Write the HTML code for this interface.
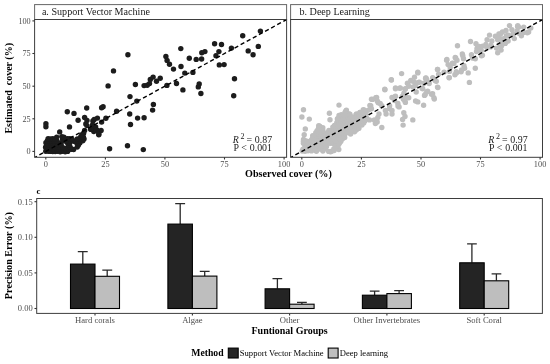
<!DOCTYPE html>
<html lang="en"><head><meta charset="utf-8"><title>Figure</title>
<style>html,body{margin:0;padding:0;background:#fff}svg{display:block}text{font-family:"Liberation Serif",serif}</style>
</head><body>
<svg width="550" height="364" viewBox="0 0 550 364">
<rect width="550" height="364" fill="#fff"/>
<defs>
<clipPath id="ca"><rect x="34.6" y="19.5" width="252" height="137.8"/></clipPath>
<clipPath id="cb"><rect x="290.6" y="19.5" width="251.9" height="137.8"/></clipPath>
</defs>
<g>
<g clip-path="url(#ca)" fill="#1c1c1c">
<circle cx="260.4" cy="31.1" r="2.7"/>
<circle cx="242.7" cy="35.8" r="2.7"/>
<circle cx="258.3" cy="46.4" r="2.7"/>
<circle cx="248.2" cy="50.9" r="2.7"/>
<circle cx="253.1" cy="54.7" r="2.7"/>
<circle cx="231.4" cy="48.1" r="2.7"/>
<circle cx="214.6" cy="43.8" r="2.7"/>
<circle cx="221.5" cy="44.5" r="2.7"/>
<circle cx="218.9" cy="51.6" r="2.7"/>
<circle cx="216" cy="55.7" r="2.7"/>
<circle cx="204.9" cy="51.6" r="2.7"/>
<circle cx="201.8" cy="52.8" r="2.7"/>
<circle cx="196.2" cy="59.4" r="2.7"/>
<circle cx="201.6" cy="59" r="2.7"/>
<circle cx="189.3" cy="58.3" r="2.7"/>
<circle cx="180.8" cy="48.6" r="2.7"/>
<circle cx="219.3" cy="64.9" r="2.7"/>
<circle cx="224.1" cy="64.6" r="2.7"/>
<circle cx="165.9" cy="56.4" r="2.7"/>
<circle cx="167.1" cy="60.4" r="2.7"/>
<circle cx="169.5" cy="64.2" r="2.7"/>
<circle cx="173.5" cy="69.1" r="2.7"/>
<circle cx="181" cy="66.5" r="2.7"/>
<circle cx="184.8" cy="73.1" r="2.7"/>
<circle cx="192.9" cy="72.4" r="2.7"/>
<circle cx="160.2" cy="78.3" r="2.7"/>
<circle cx="166.9" cy="85.4" r="2.7"/>
<circle cx="176.5" cy="83.5" r="2.7"/>
<circle cx="182.9" cy="89.9" r="2.7"/>
<circle cx="199.2" cy="84" r="2.7"/>
<circle cx="198.3" cy="86.9" r="2.7"/>
<circle cx="200.9" cy="93.5" r="2.7"/>
<circle cx="234.5" cy="78.8" r="2.7"/>
<circle cx="233.7" cy="95.8" r="2.7"/>
<circle cx="127.9" cy="54.7" r="2.7"/>
<circle cx="113.5" cy="70.9" r="2.7"/>
<circle cx="108.1" cy="85.9" r="2.7"/>
<circle cx="135.4" cy="84.5" r="2.7"/>
<circle cx="144.1" cy="85.6" r="2.7"/>
<circle cx="147.2" cy="85.3" r="2.7"/>
<circle cx="149.5" cy="83.6" r="2.7"/>
<circle cx="150.3" cy="79.4" r="2.7"/>
<circle cx="153.1" cy="77.1" r="2.7"/>
<circle cx="156.5" cy="81.3" r="2.7"/>
<circle cx="130" cy="96.6" r="2.7"/>
<circle cx="136.8" cy="101.1" r="2.7"/>
<circle cx="153.4" cy="104.4" r="2.7"/>
<circle cx="152.6" cy="110.1" r="2.7"/>
<circle cx="116.6" cy="111.2" r="2.7"/>
<circle cx="129.7" cy="114" r="2.7"/>
<circle cx="137.6" cy="118.1" r="2.7"/>
<circle cx="144.1" cy="117.8" r="2.7"/>
<circle cx="130.5" cy="124.5" r="2.7"/>
<circle cx="103.1" cy="106.7" r="2.7"/>
<circle cx="101.6" cy="107.8" r="2.7"/>
<circle cx="105.9" cy="118.3" r="2.7"/>
<circle cx="101.6" cy="122.1" r="2.7"/>
<circle cx="97.4" cy="118.1" r="2.7"/>
<circle cx="94.2" cy="119.4" r="2.7"/>
<circle cx="91.5" cy="129.4" r="2.7"/>
<circle cx="97" cy="130.2" r="2.7"/>
<circle cx="101.1" cy="130.5" r="2.7"/>
<circle cx="98.8" cy="134.8" r="2.7"/>
<circle cx="127.5" cy="145.8" r="2.7"/>
<circle cx="109.6" cy="148.7" r="2.7"/>
<circle cx="143.3" cy="149.6" r="2.7"/>
<circle cx="86.7" cy="108" r="2.7"/>
<circle cx="67.3" cy="111.8" r="2.7"/>
<circle cx="74" cy="113.4" r="2.7"/>
<circle cx="78.1" cy="120.2" r="2.7"/>
<circle cx="84.6" cy="117.5" r="2.7"/>
<circle cx="87" cy="120.5" r="2.7"/>
<circle cx="45.9" cy="123.7" r="2.7"/>
<circle cx="45.9" cy="126.8" r="2.7"/>
<circle cx="69.5" cy="126.9" r="2.7"/>
<circle cx="85.8" cy="124" r="2.7"/>
<circle cx="87" cy="125.6" r="2.7"/>
<circle cx="84.6" cy="130.4" r="2.7"/>
<circle cx="59.7" cy="131.9" r="2.7"/>
<circle cx="83.5" cy="138.6" r="2.7"/>
<circle cx="83.6" cy="133.2" r="2.7"/>
<circle cx="92.5" cy="125" r="2.7"/>
<circle cx="95.6" cy="127" r="2.7"/>
<circle cx="93.8" cy="131.5" r="2.7"/>
<circle cx="90.6" cy="129.2" r="2.7"/>
<circle cx="92.9" cy="120.9" r="2.7"/>
<circle cx="96.5" cy="130.4" r="2.7"/>
<circle cx="98.8" cy="133.9" r="2.7"/>
<circle cx="45.8" cy="151.3" r="2.7"/>
<circle cx="48.4" cy="151.2" r="2.7"/>
<circle cx="50.7" cy="151.4" r="2.7"/>
<circle cx="52.8" cy="151.5" r="2.7"/>
<circle cx="55.2" cy="151.5" r="2.7"/>
<circle cx="57.6" cy="151.2" r="2.7"/>
<circle cx="60.2" cy="151.7" r="2.7"/>
<circle cx="62.4" cy="151.3" r="2.7"/>
<circle cx="65.2" cy="151.8" r="2.7"/>
<circle cx="67.6" cy="151.4" r="2.7"/>
<circle cx="47.1" cy="149.3" r="2.7"/>
<circle cx="49.7" cy="149.5" r="2.7"/>
<circle cx="51.7" cy="149.5" r="2.7"/>
<circle cx="54.3" cy="149.7" r="2.7"/>
<circle cx="56.9" cy="149.3" r="2.7"/>
<circle cx="59.4" cy="149.1" r="2.7"/>
<circle cx="61.4" cy="149.6" r="2.7"/>
<circle cx="63.7" cy="149.4" r="2.7"/>
<circle cx="66" cy="149.5" r="2.7"/>
<circle cx="68.9" cy="149.5" r="2.7"/>
<circle cx="71.4" cy="149.3" r="2.7"/>
<circle cx="73.6" cy="149.5" r="2.7"/>
<circle cx="45.6" cy="147.3" r="2.7"/>
<circle cx="48.1" cy="147" r="2.7"/>
<circle cx="50.4" cy="147.5" r="2.7"/>
<circle cx="52.8" cy="147.1" r="2.7"/>
<circle cx="55.4" cy="147.6" r="2.7"/>
<circle cx="57.6" cy="147.3" r="2.7"/>
<circle cx="60.3" cy="147.6" r="2.7"/>
<circle cx="62.9" cy="147.6" r="2.7"/>
<circle cx="67.4" cy="147.6" r="2.7"/>
<circle cx="70.2" cy="147.1" r="2.7"/>
<circle cx="77.2" cy="147.1" r="2.7"/>
<circle cx="47.4" cy="145.4" r="2.7"/>
<circle cx="49.4" cy="145.1" r="2.7"/>
<circle cx="51.6" cy="145.3" r="2.7"/>
<circle cx="54" cy="144.9" r="2.7"/>
<circle cx="56.5" cy="145" r="2.7"/>
<circle cx="59" cy="144.9" r="2.7"/>
<circle cx="61.2" cy="145" r="2.7"/>
<circle cx="68.8" cy="145" r="2.7"/>
<circle cx="78.3" cy="145.2" r="2.7"/>
<circle cx="45.9" cy="142.8" r="2.7"/>
<circle cx="48.3" cy="143.4" r="2.7"/>
<circle cx="51" cy="143.2" r="2.7"/>
<circle cx="52.9" cy="143" r="2.7"/>
<circle cx="55.3" cy="143.3" r="2.7"/>
<circle cx="57.9" cy="143.3" r="2.7"/>
<circle cx="60.2" cy="142.9" r="2.7"/>
<circle cx="67.7" cy="143.3" r="2.7"/>
<circle cx="69.7" cy="143.1" r="2.7"/>
<circle cx="76.9" cy="143.2" r="2.7"/>
<circle cx="79.8" cy="143.1" r="2.7"/>
<circle cx="47.3" cy="141" r="2.7"/>
<circle cx="49.6" cy="141.2" r="2.7"/>
<circle cx="51.6" cy="141.1" r="2.7"/>
<circle cx="54.6" cy="141.2" r="2.7"/>
<circle cx="56.9" cy="141" r="2.7"/>
<circle cx="64.2" cy="140.9" r="2.7"/>
<circle cx="66.2" cy="141.3" r="2.7"/>
<circle cx="68.9" cy="140.8" r="2.7"/>
<circle cx="70.8" cy="140.8" r="2.7"/>
<circle cx="73.8" cy="141.2" r="2.7"/>
<circle cx="75.7" cy="141.2" r="2.7"/>
<circle cx="78.6" cy="141.1" r="2.7"/>
<circle cx="80.6" cy="141" r="2.7"/>
<circle cx="82.8" cy="140.7" r="2.7"/>
<circle cx="48.1" cy="138.8" r="2.7"/>
<circle cx="50.5" cy="139" r="2.7"/>
<circle cx="52.9" cy="138.8" r="2.7"/>
<circle cx="55.2" cy="139.2" r="2.7"/>
<circle cx="62.6" cy="139.2" r="2.7"/>
<circle cx="65.1" cy="138.9" r="2.7"/>
<circle cx="67.5" cy="138.6" r="2.7"/>
<circle cx="69.9" cy="138.7" r="2.7"/>
<circle cx="72" cy="139.1" r="2.7"/>
<circle cx="77.3" cy="138.9" r="2.7"/>
<circle cx="79.4" cy="138.9" r="2.7"/>
<circle cx="81.9" cy="139.1" r="2.7"/>
<circle cx="84" cy="138.9" r="2.7"/>
<circle cx="56.7" cy="137.1" r="2.7"/>
<circle cx="61.8" cy="136.6" r="2.7"/>
<circle cx="63.9" cy="137.1" r="2.7"/>
<circle cx="80.8" cy="136.6" r="2.7"/>
<circle cx="83.4" cy="137.1" r="2.7"/>
<circle cx="81.9" cy="134.8" r="2.7"/>
</g>
<line clip-path="url(#ca)" x1="35" y1="157.3" x2="288.9" y2="18.3" stroke="#000" stroke-width="1.4" stroke-dasharray="4.2 2.754" stroke-dashoffset="2"/>
<rect x="34.6" y="4.6" width="252" height="14.9" fill="#fff" stroke="#666" stroke-width="1"/>
<text x="41.9" y="15.1" font-size="10.1" fill="#1a1a1a">a. Support Vector Machine</text>
<rect x="34.6" y="19.5" width="252" height="137.8" fill="none" stroke="#3d3d3d" stroke-width="1"/>
<line x1="45.8" y1="157.3" x2="45.8" y2="159.5" stroke="#333" stroke-width="1.1"/>
<text x="45.8" y="167" font-size="8.3" text-anchor="middle" fill="#4d4d4d">0</text>
<line x1="105.4" y1="157.3" x2="105.4" y2="159.5" stroke="#333" stroke-width="1.1"/>
<text x="105.4" y="167" font-size="8.3" text-anchor="middle" fill="#4d4d4d">25</text>
<line x1="164.9" y1="157.3" x2="164.9" y2="159.5" stroke="#333" stroke-width="1.1"/>
<text x="164.9" y="167" font-size="8.3" text-anchor="middle" fill="#4d4d4d">50</text>
<line x1="224.5" y1="157.3" x2="224.5" y2="159.5" stroke="#333" stroke-width="1.1"/>
<text x="224.5" y="167" font-size="8.3" text-anchor="middle" fill="#4d4d4d">75</text>
<line x1="284.1" y1="157.3" x2="284.1" y2="159.5" stroke="#333" stroke-width="1.1"/>
<text x="284.1" y="167" font-size="8.3" text-anchor="middle" fill="#4d4d4d">100</text>
</g>
<g>
<g clip-path="url(#cb)" fill="#bebebe">
<circle cx="303.5" cy="109.8" r="2.7"/>
<circle cx="301.9" cy="117" r="2.7"/>
<circle cx="309.3" cy="119.1" r="2.7"/>
<circle cx="305.3" cy="128.9" r="2.7"/>
<circle cx="304.2" cy="134.8" r="2.7"/>
<circle cx="303.5" cy="139.5" r="2.7"/>
<circle cx="339" cy="105.1" r="2.7"/>
<circle cx="329.4" cy="113.2" r="2.7"/>
<circle cx="330" cy="119.7" r="2.7"/>
<circle cx="346.4" cy="110.1" r="2.7"/>
<circle cx="349.1" cy="114" r="2.7"/>
<circle cx="339" cy="115.5" r="2.7"/>
<circle cx="337.5" cy="118.6" r="2.7"/>
<circle cx="339.8" cy="122.5" r="2.7"/>
<circle cx="343.6" cy="120.9" r="2.7"/>
<circle cx="349.8" cy="120.1" r="2.7"/>
<circle cx="319.7" cy="126.3" r="2.7"/>
<circle cx="322.8" cy="127.8" r="2.7"/>
<circle cx="332.8" cy="127.1" r="2.7"/>
<circle cx="356" cy="114.7" r="2.7"/>
<circle cx="359.9" cy="112.4" r="2.7"/>
<circle cx="363.3" cy="109.8" r="2.7"/>
<circle cx="371.5" cy="99.3" r="2.7"/>
<circle cx="369.9" cy="105.5" r="2.7"/>
<circle cx="368.4" cy="110.1" r="2.7"/>
<circle cx="366.8" cy="118.6" r="2.7"/>
<circle cx="358.3" cy="128.6" r="2.7"/>
<circle cx="354.5" cy="131.7" r="2.7"/>
<circle cx="312.7" cy="135.6" r="2.7"/>
<circle cx="303.4" cy="141.2" r="2.7"/>
<circle cx="318.7" cy="125.8" r="2.7"/>
<circle cx="345.9" cy="110.9" r="2.7"/>
<circle cx="344.7" cy="118.7" r="2.7"/>
<circle cx="356.5" cy="114" r="2.7"/>
<circle cx="356.1" cy="117.1" r="2.7"/>
<circle cx="376.6" cy="97.5" r="2.7"/>
<circle cx="377.3" cy="101" r="2.7"/>
<circle cx="370.7" cy="105.7" r="2.7"/>
<circle cx="380.2" cy="103.4" r="2.7"/>
<circle cx="381.8" cy="105.7" r="2.7"/>
<circle cx="384.9" cy="89.7" r="2.7"/>
<circle cx="391.3" cy="79.7" r="2.7"/>
<circle cx="395.5" cy="88" r="2.7"/>
<circle cx="400.3" cy="88" r="2.7"/>
<circle cx="405" cy="89.2" r="2.7"/>
<circle cx="392" cy="97.5" r="2.7"/>
<circle cx="395.5" cy="96.3" r="2.7"/>
<circle cx="407.4" cy="83.3" r="2.7"/>
<circle cx="410.9" cy="80.9" r="2.7"/>
<circle cx="414.4" cy="82.1" r="2.7"/>
<circle cx="415.6" cy="85.6" r="2.7"/>
<circle cx="406.2" cy="97.5" r="2.7"/>
<circle cx="405" cy="101" r="2.7"/>
<circle cx="397.9" cy="103.4" r="2.7"/>
<circle cx="399.1" cy="106.9" r="2.7"/>
<circle cx="389.6" cy="105.7" r="2.7"/>
<circle cx="392" cy="110.5" r="2.7"/>
<circle cx="386.1" cy="114" r="2.7"/>
<circle cx="392" cy="114" r="2.7"/>
<circle cx="403.8" cy="112.8" r="2.7"/>
<circle cx="405" cy="116.4" r="2.7"/>
<circle cx="402.6" cy="119.4" r="2.7"/>
<circle cx="403.1" cy="125.1" r="2.7"/>
<circle cx="412.8" cy="119.9" r="2.7"/>
<circle cx="415.6" cy="101" r="2.7"/>
<circle cx="381.8" cy="127.5" r="2.7"/>
<circle cx="375.4" cy="123.5" r="2.7"/>
<circle cx="374.3" cy="119.9" r="2.7"/>
<circle cx="377.8" cy="117.5" r="2.7"/>
<circle cx="379" cy="114" r="2.7"/>
<circle cx="369.5" cy="119.9" r="2.7"/>
<circle cx="364.8" cy="121.1" r="2.7"/>
<circle cx="358.9" cy="128.2" r="2.7"/>
<circle cx="350.6" cy="134.1" r="2.7"/>
<circle cx="344.7" cy="137.6" r="2.7"/>
<circle cx="338.8" cy="143.5" r="2.7"/>
<circle cx="338.8" cy="149.5" r="2.7"/>
<circle cx="334.1" cy="150.6" r="2.7"/>
<circle cx="330.5" cy="151.8" r="2.7"/>
<circle cx="509.5" cy="25.6" r="2.7"/>
<circle cx="517.8" cy="25.6" r="2.7"/>
<circle cx="523.7" cy="27.3" r="2.7"/>
<circle cx="530.8" cy="28" r="2.7"/>
<circle cx="527.3" cy="32.7" r="2.7"/>
<circle cx="521.4" cy="35.8" r="2.7"/>
<circle cx="514.3" cy="38.6" r="2.7"/>
<circle cx="511.9" cy="29.7" r="2.7"/>
<circle cx="506" cy="30.4" r="2.7"/>
<circle cx="502.4" cy="32" r="2.7"/>
<circle cx="498.9" cy="33.9" r="2.7"/>
<circle cx="495.4" cy="36.3" r="2.7"/>
<circle cx="489.5" cy="35.1" r="2.7"/>
<circle cx="487.1" cy="39.8" r="2.7"/>
<circle cx="485.9" cy="44.5" r="2.7"/>
<circle cx="491.8" cy="41" r="2.7"/>
<circle cx="497.7" cy="39.8" r="2.7"/>
<circle cx="503.6" cy="38.6" r="2.7"/>
<circle cx="508.4" cy="35.1" r="2.7"/>
<circle cx="513.1" cy="33.9" r="2.7"/>
<circle cx="504.8" cy="43.4" r="2.7"/>
<circle cx="500.1" cy="45.7" r="2.7"/>
<circle cx="496.5" cy="48.1" r="2.7"/>
<circle cx="497.7" cy="52.8" r="2.7"/>
<circle cx="490.6" cy="46.9" r="2.7"/>
<circle cx="470.5" cy="41.5" r="2.7"/>
<circle cx="476" cy="43.8" r="2.7"/>
<circle cx="477.6" cy="46.9" r="2.7"/>
<circle cx="476.5" cy="51.6" r="2.7"/>
<circle cx="481.2" cy="50.5" r="2.7"/>
<circle cx="482.4" cy="55.2" r="2.7"/>
<circle cx="475.3" cy="58.7" r="2.7"/>
<circle cx="457.5" cy="45.7" r="2.7"/>
<circle cx="462.3" cy="54" r="2.7"/>
<circle cx="463.5" cy="58.7" r="2.7"/>
<circle cx="455.2" cy="57.5" r="2.7"/>
<circle cx="446.9" cy="59.4" r="2.7"/>
<circle cx="452.8" cy="63.5" r="2.7"/>
<circle cx="448.1" cy="64.6" r="2.7"/>
<circle cx="475.3" cy="68.2" r="2.7"/>
<circle cx="464.6" cy="68.2" r="2.7"/>
<circle cx="461.1" cy="71.7" r="2.7"/>
<circle cx="456.4" cy="72.9" r="2.7"/>
<circle cx="468.2" cy="72.9" r="2.7"/>
<circle cx="449.3" cy="77.6" r="2.7"/>
<circle cx="469.4" cy="82.4" r="2.7"/>
<circle cx="437.5" cy="69.4" r="2.7"/>
<circle cx="438.6" cy="74.1" r="2.7"/>
<circle cx="432.7" cy="77.6" r="2.7"/>
<circle cx="425.6" cy="78.3" r="2.7"/>
<circle cx="417.8" cy="72.9" r="2.7"/>
<circle cx="418.5" cy="82.4" r="2.7"/>
<circle cx="429.2" cy="83.5" r="2.7"/>
<circle cx="436.3" cy="81.2" r="2.7"/>
<circle cx="437.5" cy="87.1" r="2.7"/>
<circle cx="422.1" cy="88.3" r="2.7"/>
<circle cx="426.8" cy="91.8" r="2.7"/>
<circle cx="431.5" cy="94.2" r="2.7"/>
<circle cx="433.9" cy="97.7" r="2.7"/>
<circle cx="424.5" cy="95.4" r="2.7"/>
<circle cx="401.6" cy="73.6" r="2.7"/>
<circle cx="391.4" cy="80" r="2.7"/>
<circle cx="384.8" cy="89.2" r="2.7"/>
<circle cx="417.8" cy="72.3" r="2.7"/>
<circle cx="414.5" cy="77.2" r="2.7"/>
<circle cx="410.9" cy="80.5" r="2.7"/>
<circle cx="395.5" cy="88.7" r="2.7"/>
<circle cx="399.7" cy="88.2" r="2.7"/>
<circle cx="405.4" cy="88.7" r="2.7"/>
<circle cx="408.7" cy="86.3" r="2.7"/>
<circle cx="419.4" cy="82.1" r="2.7"/>
<circle cx="426" cy="78" r="2.7"/>
<circle cx="437.6" cy="69.4" r="2.7"/>
<circle cx="435.1" cy="80.5" r="2.7"/>
<circle cx="437.9" cy="87.6" r="2.7"/>
<circle cx="446.6" cy="60.2" r="2.7"/>
<circle cx="455.7" cy="57.9" r="2.7"/>
<circle cx="452.4" cy="63.2" r="2.7"/>
<circle cx="449.1" cy="77.7" r="2.7"/>
<circle cx="454.9" cy="74.7" r="2.7"/>
<circle cx="422.7" cy="88.7" r="2.7"/>
<circle cx="427.7" cy="91.2" r="2.7"/>
<circle cx="425.2" cy="94.5" r="2.7"/>
<circle cx="432.6" cy="93.7" r="2.7"/>
<circle cx="434.3" cy="99.1" r="2.7"/>
<circle cx="416.2" cy="92" r="2.7"/>
<circle cx="417.8" cy="101.9" r="2.7"/>
<circle cx="423.6" cy="105.2" r="2.7"/>
<circle cx="408.7" cy="97.8" r="2.7"/>
<circle cx="405.4" cy="102.4" r="2.7"/>
<circle cx="394.7" cy="97" r="2.7"/>
<circle cx="375.8" cy="97.8" r="2.7"/>
<circle cx="372.5" cy="99.4" r="2.7"/>
<circle cx="378.2" cy="102.7" r="2.7"/>
<circle cx="398" cy="106" r="2.7"/>
<circle cx="464" cy="65.8" r="2.7"/>
<circle cx="461.6" cy="69.9" r="2.7"/>
<circle cx="456.3" cy="71.7" r="2.7"/>
<circle cx="479.9" cy="50.4" r="2.7"/>
<circle cx="477" cy="48.6" r="2.7"/>
<circle cx="462.8" cy="55.7" r="2.7"/>
<circle cx="453.9" cy="63.4" r="2.7"/>
<circle cx="519.4" cy="33.4" r="2.7"/>
<circle cx="500.5" cy="34" r="2.7"/>
<circle cx="517" cy="31" r="2.7"/>
<circle cx="508.1" cy="41" r="2.7"/>
<circle cx="505.2" cy="43.4" r="2.7"/>
<circle cx="501.6" cy="45.8" r="2.7"/>
<circle cx="491" cy="45.2" r="2.7"/>
<circle cx="486.9" cy="47.6" r="2.7"/>
<circle cx="479.2" cy="46.4" r="2.7"/>
<circle cx="480.4" cy="49.3" r="2.7"/>
<circle cx="481.5" cy="55.8" r="2.7"/>
<circle cx="394.5" cy="100.5" r="2.7"/>
<circle cx="389.5" cy="108.7" r="2.7"/>
<circle cx="371.4" cy="108.7" r="2.7"/>
<circle cx="377.2" cy="121.9" r="2.7"/>
<circle cx="385.4" cy="110.4" r="2.7"/>
<circle cx="302.2" cy="151" r="2.7"/>
<circle cx="305" cy="151.3" r="2.7"/>
<circle cx="308" cy="150.8" r="2.7"/>
<circle cx="311.5" cy="150.9" r="2.7"/>
<circle cx="316.4" cy="151.3" r="2.7"/>
<circle cx="322.9" cy="151" r="2.7"/>
<circle cx="328.7" cy="151.4" r="2.7"/>
<circle cx="331.6" cy="151.3" r="2.7"/>
<circle cx="303" cy="149.1" r="2.7"/>
<circle cx="306.2" cy="149.2" r="2.7"/>
<circle cx="309.2" cy="148.4" r="2.7"/>
<circle cx="312.5" cy="148.3" r="2.7"/>
<circle cx="315.3" cy="149.2" r="2.7"/>
<circle cx="319" cy="149.1" r="2.7"/>
<circle cx="321.7" cy="149.2" r="2.7"/>
<circle cx="325" cy="148.8" r="2.7"/>
<circle cx="333.8" cy="148.9" r="2.7"/>
<circle cx="336.2" cy="148.2" r="2.7"/>
<circle cx="304.9" cy="145.9" r="2.7"/>
<circle cx="307.5" cy="145.8" r="2.7"/>
<circle cx="311.6" cy="145.7" r="2.7"/>
<circle cx="314" cy="146.3" r="2.7"/>
<circle cx="317.4" cy="145.8" r="2.7"/>
<circle cx="319.7" cy="145.8" r="2.7"/>
<circle cx="322.9" cy="146" r="2.7"/>
<circle cx="326.5" cy="146.5" r="2.7"/>
<circle cx="335.5" cy="146.1" r="2.7"/>
<circle cx="338.1" cy="145.5" r="2.7"/>
<circle cx="303.4" cy="143.2" r="2.7"/>
<circle cx="306.6" cy="142.9" r="2.7"/>
<circle cx="309.3" cy="143.5" r="2.7"/>
<circle cx="313.1" cy="143.7" r="2.7"/>
<circle cx="316" cy="143.5" r="2.7"/>
<circle cx="318.2" cy="143.2" r="2.7"/>
<circle cx="322.1" cy="143.7" r="2.7"/>
<circle cx="324.3" cy="142.9" r="2.7"/>
<circle cx="327.5" cy="143.7" r="2.7"/>
<circle cx="330.4" cy="143.2" r="2.7"/>
<circle cx="333.7" cy="144" r="2.7"/>
<circle cx="336.2" cy="142.9" r="2.7"/>
<circle cx="339.3" cy="143.4" r="2.7"/>
<circle cx="305.5" cy="140.7" r="2.7"/>
<circle cx="307.6" cy="141.4" r="2.7"/>
<circle cx="311.3" cy="140.3" r="2.7"/>
<circle cx="314.2" cy="140.8" r="2.7"/>
<circle cx="316.8" cy="140.7" r="2.7"/>
<circle cx="319.6" cy="140.3" r="2.7"/>
<circle cx="322.7" cy="140.7" r="2.7"/>
<circle cx="326.5" cy="140.4" r="2.7"/>
<circle cx="329.6" cy="140.5" r="2.7"/>
<circle cx="331.8" cy="141.3" r="2.7"/>
<circle cx="335.4" cy="140.8" r="2.7"/>
<circle cx="337.5" cy="140.9" r="2.7"/>
<circle cx="340.8" cy="141.4" r="2.7"/>
<circle cx="312.4" cy="138.3" r="2.7"/>
<circle cx="316" cy="137.9" r="2.7"/>
<circle cx="318.9" cy="138.6" r="2.7"/>
<circle cx="321.9" cy="138.6" r="2.7"/>
<circle cx="324.6" cy="138.1" r="2.7"/>
<circle cx="327.3" cy="138.1" r="2.7"/>
<circle cx="330.8" cy="137.8" r="2.7"/>
<circle cx="333.1" cy="138.6" r="2.7"/>
<circle cx="336.2" cy="137.8" r="2.7"/>
<circle cx="338.9" cy="138.4" r="2.7"/>
<circle cx="342.3" cy="138.9" r="2.7"/>
<circle cx="314" cy="136.1" r="2.7"/>
<circle cx="317.4" cy="136.2" r="2.7"/>
<circle cx="319.4" cy="135.5" r="2.7"/>
<circle cx="322.5" cy="135.3" r="2.7"/>
<circle cx="326.6" cy="135.8" r="2.7"/>
<circle cx="329.5" cy="135.5" r="2.7"/>
<circle cx="332.4" cy="135.6" r="2.7"/>
<circle cx="334.7" cy="136" r="2.7"/>
<circle cx="338.5" cy="135.2" r="2.7"/>
<circle cx="341.1" cy="135.8" r="2.7"/>
<circle cx="343.7" cy="135.5" r="2.7"/>
<circle cx="315.8" cy="132.7" r="2.7"/>
<circle cx="317.9" cy="133.6" r="2.7"/>
<circle cx="321.4" cy="133.5" r="2.7"/>
<circle cx="324.4" cy="133.6" r="2.7"/>
<circle cx="327.5" cy="132.7" r="2.7"/>
<circle cx="329.9" cy="133.2" r="2.7"/>
<circle cx="333.7" cy="133.6" r="2.7"/>
<circle cx="336" cy="133.2" r="2.7"/>
<circle cx="339.3" cy="133.1" r="2.7"/>
<circle cx="342.1" cy="132.8" r="2.7"/>
<circle cx="345.5" cy="133.6" r="2.7"/>
<circle cx="317.1" cy="130.6" r="2.7"/>
<circle cx="320.2" cy="130.3" r="2.7"/>
<circle cx="322.9" cy="130.6" r="2.7"/>
<circle cx="328.9" cy="130.4" r="2.7"/>
<circle cx="331.4" cy="130.6" r="2.7"/>
<circle cx="335" cy="130.2" r="2.7"/>
<circle cx="338.3" cy="130.8" r="2.7"/>
<circle cx="340.9" cy="130.1" r="2.7"/>
<circle cx="344" cy="130" r="2.7"/>
<circle cx="346.6" cy="130.4" r="2.7"/>
<circle cx="349.5" cy="130.4" r="2.7"/>
<circle cx="353" cy="129.9" r="2.7"/>
<circle cx="356.2" cy="130" r="2.7"/>
<circle cx="318.5" cy="128.4" r="2.7"/>
<circle cx="333.7" cy="128.4" r="2.7"/>
<circle cx="336.1" cy="128.2" r="2.7"/>
<circle cx="339" cy="127.9" r="2.7"/>
<circle cx="342.7" cy="127.7" r="2.7"/>
<circle cx="345.9" cy="128" r="2.7"/>
<circle cx="348.6" cy="128.4" r="2.7"/>
<circle cx="351" cy="128.5" r="2.7"/>
<circle cx="354.7" cy="127.8" r="2.7"/>
<circle cx="357.9" cy="127.6" r="2.7"/>
<circle cx="334.5" cy="125.5" r="2.7"/>
<circle cx="338.4" cy="125.6" r="2.7"/>
<circle cx="340.9" cy="125" r="2.7"/>
<circle cx="343.4" cy="125.5" r="2.7"/>
<circle cx="347.1" cy="125.1" r="2.7"/>
<circle cx="350.2" cy="125.2" r="2.7"/>
<circle cx="353.5" cy="125.6" r="2.7"/>
<circle cx="355.7" cy="125.8" r="2.7"/>
<circle cx="358.5" cy="125.3" r="2.7"/>
<circle cx="361.9" cy="125" r="2.7"/>
<circle cx="336.8" cy="122.7" r="2.7"/>
<circle cx="339.2" cy="122.9" r="2.7"/>
<circle cx="343.1" cy="122.4" r="2.7"/>
<circle cx="346" cy="122.1" r="2.7"/>
<circle cx="348.2" cy="122.4" r="2.7"/>
<circle cx="351.8" cy="123.2" r="2.7"/>
<circle cx="354.8" cy="122.5" r="2.7"/>
<circle cx="358" cy="122.5" r="2.7"/>
<circle cx="360.2" cy="123.2" r="2.7"/>
<circle cx="363.7" cy="122.9" r="2.7"/>
<circle cx="337.5" cy="119.5" r="2.7"/>
<circle cx="341.4" cy="120.5" r="2.7"/>
<circle cx="344.2" cy="120.5" r="2.7"/>
<circle cx="347.2" cy="119.8" r="2.7"/>
<circle cx="349.5" cy="119.6" r="2.7"/>
<circle cx="353.3" cy="119.7" r="2.7"/>
<circle cx="355.8" cy="120" r="2.7"/>
<circle cx="358.4" cy="119.8" r="2.7"/>
<circle cx="361.7" cy="120.4" r="2.7"/>
<circle cx="364.8" cy="119.9" r="2.7"/>
<circle cx="339" cy="117.8" r="2.7"/>
<circle cx="342.7" cy="117.8" r="2.7"/>
<circle cx="345.7" cy="117.3" r="2.7"/>
<circle cx="348.4" cy="117.4" r="2.7"/>
<circle cx="352" cy="117" r="2.7"/>
<circle cx="357.1" cy="117.2" r="2.7"/>
<circle cx="361" cy="117.5" r="2.7"/>
<circle cx="363.4" cy="118" r="2.7"/>
<circle cx="366.2" cy="117.5" r="2.7"/>
<circle cx="341.3" cy="114.8" r="2.7"/>
<circle cx="343.6" cy="115.1" r="2.7"/>
<circle cx="346.5" cy="114.5" r="2.7"/>
<circle cx="349.9" cy="114.3" r="2.7"/>
<circle cx="359.2" cy="114.9" r="2.7"/>
<circle cx="361.6" cy="115" r="2.7"/>
<circle cx="364.9" cy="115.2" r="2.7"/>
<circle cx="345" cy="112.4" r="2.7"/>
<circle cx="360.2" cy="112.5" r="2.7"/>
<circle cx="363.4" cy="112.6" r="2.7"/>
<circle cx="366" cy="112.9" r="2.7"/>
<circle cx="364.5" cy="110.1" r="2.7"/>
<circle cx="501.1" cy="50.1" r="2.7"/>
<circle cx="499.5" cy="38.2" r="2.7"/>
<circle cx="506.4" cy="35.8" r="2.7"/>
<circle cx="402.2" cy="96.5" r="2.7"/>
<circle cx="423.9" cy="83.2" r="2.7"/>
<circle cx="403.9" cy="93.3" r="2.7"/>
<circle cx="471.5" cy="54.8" r="2.7"/>
<circle cx="523.5" cy="32.5" r="2.7"/>
<circle cx="518.5" cy="27.2" r="2.7"/>
<circle cx="450.2" cy="67.4" r="2.7"/>
<circle cx="413.1" cy="86.9" r="2.7"/>
<circle cx="472.4" cy="58.1" r="2.7"/>
<circle cx="482.6" cy="46.1" r="2.7"/>
<circle cx="449.6" cy="71.4" r="2.7"/>
<circle cx="457" cy="60.3" r="2.7"/>
<circle cx="529.5" cy="17.5" r="2.7"/>
<circle cx="426.7" cy="79.4" r="2.7"/>
<circle cx="444.1" cy="72.1" r="2.7"/>
<circle cx="517.6" cy="26.4" r="2.7"/>
<circle cx="403.4" cy="99.3" r="2.7"/>
<circle cx="502.1" cy="42.5" r="2.7"/>
<circle cx="528.6" cy="32" r="2.7"/>
</g>
<line clip-path="url(#cb)" x1="291" y1="157.3" x2="544.9" y2="18.3" stroke="#000" stroke-width="1.4" stroke-dasharray="4.2 2.754" stroke-dashoffset="2"/>
<rect x="290.6" y="4.6" width="251.9" height="14.9" fill="#fff" stroke="#666" stroke-width="1"/>
<text x="299.5" y="15.1" font-size="10.1" fill="#1a1a1a">b. Deep Learning</text>
<rect x="290.6" y="19.5" width="251.9" height="137.8" fill="none" stroke="#3d3d3d" stroke-width="1"/>
<line x1="301.8" y1="157.3" x2="301.8" y2="159.5" stroke="#333" stroke-width="1.1"/>
<text x="301.8" y="167" font-size="8.3" text-anchor="middle" fill="#4d4d4d">0</text>
<line x1="361.4" y1="157.3" x2="361.4" y2="159.5" stroke="#333" stroke-width="1.1"/>
<text x="361.4" y="167" font-size="8.3" text-anchor="middle" fill="#4d4d4d">25</text>
<line x1="421" y1="157.3" x2="421" y2="159.5" stroke="#333" stroke-width="1.1"/>
<text x="421" y="167" font-size="8.3" text-anchor="middle" fill="#4d4d4d">50</text>
<line x1="480.5" y1="157.3" x2="480.5" y2="159.5" stroke="#333" stroke-width="1.1"/>
<text x="480.5" y="167" font-size="8.3" text-anchor="middle" fill="#4d4d4d">75</text>
<line x1="540.1" y1="157.3" x2="540.1" y2="159.5" stroke="#333" stroke-width="1.1"/>
<text x="540.1" y="167" font-size="8.3" text-anchor="middle" fill="#4d4d4d">100</text>
</g>
<line x1="32.4" y1="151.4" x2="34.6" y2="151.4" stroke="#333" stroke-width="1.1"/>
<text x="30.7" y="154.2" font-size="8.2" text-anchor="end" fill="#4d4d4d">0</text>
<line x1="32.4" y1="118.8" x2="34.6" y2="118.8" stroke="#333" stroke-width="1.1"/>
<text x="30.7" y="121.6" font-size="8.2" text-anchor="end" fill="#4d4d4d">25</text>
<line x1="32.4" y1="86.2" x2="34.6" y2="86.2" stroke="#333" stroke-width="1.1"/>
<text x="30.7" y="89" font-size="8.2" text-anchor="end" fill="#4d4d4d">50</text>
<line x1="32.4" y1="53.5" x2="34.6" y2="53.5" stroke="#333" stroke-width="1.1"/>
<text x="30.7" y="56.3" font-size="8.2" text-anchor="end" fill="#4d4d4d">75</text>
<line x1="32.4" y1="20.9" x2="34.6" y2="20.9" stroke="#333" stroke-width="1.1"/>
<text x="30.7" y="23.7" font-size="8.2" text-anchor="end" fill="#4d4d4d">100</text>
<text y="142.5" font-size="9.9" fill="#1a1a1a"><tspan x="232.7" font-style="italic">R</tspan><tspan x="240.5" y="138.5" font-size="8">2</tspan><tspan x="246.6" y="142.5">=</tspan><tspan x="254.8">0.87</tspan></text>
<text x="233.4" y="150.8" font-size="9.9" word-spacing="0.35" fill="#1a1a1a">P &lt; 0.001</text>
<text y="142.5" font-size="9.9" fill="#1a1a1a"><tspan x="488.2" font-style="italic">R</tspan><tspan x="496" y="138.5" font-size="8">2</tspan><tspan x="502.1" y="142.5">=</tspan><tspan x="510.3">0.97</tspan></text>
<text x="488.9" y="150.8" font-size="9.9" word-spacing="0.35" fill="#1a1a1a">P &lt; 0.001</text>
<text x="288.4" y="177.4" font-size="10.1" font-weight="bold" text-anchor="middle" fill="#000">Observed cover (%)</text>
<text transform="translate(11.8 88.3) rotate(-90)" font-size="10" font-weight="bold" text-anchor="middle" fill="#000" xml:space="preserve">Estimated  cover (%)</text>
<text x="36.6" y="193.8" font-size="8.8" font-weight="bold" fill="#000">c</text>
<path d="M77.8 251.6H87.7M82.8 251.6V264.1" stroke="#2a2a2a" stroke-width="1.3" fill="none"/>
<path d="M102.3 270.1H112.2M107.2 270.1V276.3" stroke="#2a2a2a" stroke-width="1.3" fill="none"/>
<rect x="70.5" y="264.1" width="24.5" height="44.4" fill="#242424" stroke="#000" stroke-width="1.1"/>
<rect x="95" y="276.3" width="24.5" height="32.2" fill="#bebebe" stroke="#000" stroke-width="1.1"/>
<line x1="95" y1="313.4" x2="95" y2="315.6" stroke="#333" stroke-width="1.1"/>
<text x="95" y="323.2" font-size="8.6" text-anchor="middle" fill="#4d4d4d">Hard corals</text>
<path d="M175.2 203.6H185.1M180.2 203.6V224.1" stroke="#2a2a2a" stroke-width="1.3" fill="none"/>
<path d="M199.8 271.3H209.6M204.7 271.3V276.1" stroke="#2a2a2a" stroke-width="1.3" fill="none"/>
<rect x="167.9" y="224.1" width="24.5" height="84.4" fill="#242424" stroke="#000" stroke-width="1.1"/>
<rect x="192.4" y="276.1" width="24.5" height="32.4" fill="#bebebe" stroke="#000" stroke-width="1.1"/>
<line x1="192.4" y1="313.4" x2="192.4" y2="315.6" stroke="#333" stroke-width="1.1"/>
<text x="192.4" y="323.2" font-size="8.6" text-anchor="middle" fill="#4d4d4d">Algae</text>
<path d="M272.5 278.7H282.2M277.4 278.7V288.8" stroke="#2a2a2a" stroke-width="1.3" fill="none"/>
<path d="M297 302.4H306.8M301.9 302.4V304.2" stroke="#2a2a2a" stroke-width="1.3" fill="none"/>
<rect x="265.1" y="288.8" width="24.5" height="19.7" fill="#242424" stroke="#000" stroke-width="1.1"/>
<rect x="289.6" y="304.2" width="24.5" height="4.3" fill="#bebebe" stroke="#000" stroke-width="1.1"/>
<line x1="289.6" y1="313.4" x2="289.6" y2="315.6" stroke="#333" stroke-width="1.1"/>
<text x="289.6" y="323.2" font-size="8.6" text-anchor="middle" fill="#4d4d4d">Other</text>
<path d="M369.8 291.2H379.5M374.6 291.2V295.2" stroke="#2a2a2a" stroke-width="1.3" fill="none"/>
<path d="M394.2 290.6H404M399.1 290.6V293.6" stroke="#2a2a2a" stroke-width="1.3" fill="none"/>
<rect x="362.4" y="295.2" width="24.5" height="13.3" fill="#242424" stroke="#000" stroke-width="1.1"/>
<rect x="386.9" y="293.6" width="24.5" height="14.9" fill="#bebebe" stroke="#000" stroke-width="1.1"/>
<line x1="386.9" y1="313.4" x2="386.9" y2="315.6" stroke="#333" stroke-width="1.1"/>
<text x="386.9" y="323.2" font-size="8.6" text-anchor="middle" fill="#4d4d4d">Other Invertebrates</text>
<path d="M467.1 243.9H476.8M471.9 243.9V262.8" stroke="#2a2a2a" stroke-width="1.3" fill="none"/>
<path d="M491.6 273.8H501.3M496.4 273.8V280.8" stroke="#2a2a2a" stroke-width="1.3" fill="none"/>
<rect x="459.7" y="262.8" width="24.5" height="45.7" fill="#242424" stroke="#000" stroke-width="1.1"/>
<rect x="484.2" y="280.8" width="24.5" height="27.7" fill="#bebebe" stroke="#000" stroke-width="1.1"/>
<line x1="484.2" y1="313.4" x2="484.2" y2="315.6" stroke="#333" stroke-width="1.1"/>
<text x="484.2" y="323.2" font-size="8.6" text-anchor="middle" fill="#4d4d4d">Soft Coral</text>
<rect x="36.7" y="198.5" width="505.7" height="114.9" fill="none" stroke="#3d3d3d" stroke-width="1"/>
<line x1="34.5" y1="308.5" x2="36.7" y2="308.5" stroke="#333" stroke-width="1.1"/>
<text x="32.7" y="311.3" font-size="8.5" text-anchor="end" fill="#4d4d4d">0.00</text>
<line x1="34.5" y1="272.9" x2="36.7" y2="272.9" stroke="#333" stroke-width="1.1"/>
<text x="32.7" y="275.7" font-size="8.5" text-anchor="end" fill="#4d4d4d">0.05</text>
<line x1="34.5" y1="237.3" x2="36.7" y2="237.3" stroke="#333" stroke-width="1.1"/>
<text x="32.7" y="240.1" font-size="8.5" text-anchor="end" fill="#4d4d4d">0.10</text>
<line x1="34.5" y1="201.7" x2="36.7" y2="201.7" stroke="#333" stroke-width="1.1"/>
<text x="32.7" y="204.5" font-size="8.5" text-anchor="end" fill="#4d4d4d">0.15</text>
<text transform="translate(11.8 255.6) rotate(-90)" font-size="10.2" font-weight="bold" text-anchor="middle" fill="#000">Precision Error (%)</text>
<text x="289.6" y="333.8" font-size="10" font-weight="bold" text-anchor="middle" fill="#000">Funtional Groups</text>
<text x="191.3" y="356" font-size="9.7" font-weight="bold" fill="#000">Method</text>
<rect x="228.3" y="348.1" width="9.9" height="9.9" fill="#242424" stroke="#000" stroke-width="1.1"/>
<text x="239.8" y="356" font-size="8.6" fill="#000">Support Vector Machine</text>
<rect x="328.2" y="348.1" width="9.9" height="9.9" fill="#bebebe" stroke="#000" stroke-width="1.1"/>
<text x="339.8" y="356" font-size="8.55" fill="#000">Deep learning</text>
</svg>
</body></html>
